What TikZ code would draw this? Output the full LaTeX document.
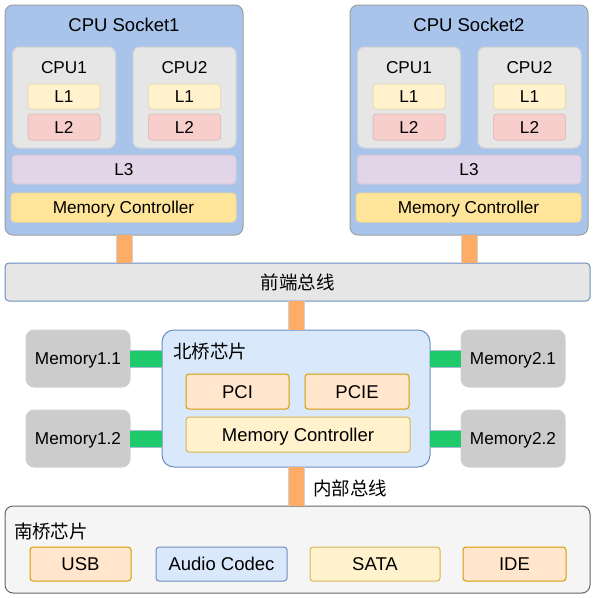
\documentclass[tikz,border=0pt]{standalone}
\usepackage{fontspec}
\setmainfont{Liberation Sans}
\newfontfamily\cjk{Noto Sans CJK SC}
\definecolor{sockfill}{HTML}{A9C4EB}
\definecolor{sockdraw}{HTML}{9E9E9E}
\definecolor{cpufill}{HTML}{E6E6E6}
\definecolor{cpudraw}{HTML}{D4D4D4}
\definecolor{lonefill}{HTML}{FFF2CC}
\definecolor{lonedraw}{HTML}{E8DDB8}
\definecolor{ltwofill}{HTML}{F8CECC}
\definecolor{ltwodraw}{HTML}{E2C0BE}
\definecolor{lthreefill}{HTML}{E1D5E7}
\definecolor{lthreedraw}{HTML}{D2C8D8}
\definecolor{mcfill}{HTML}{FFE599}
\definecolor{mcdraw}{HTML}{F2DA94}
\definecolor{bluefill}{HTML}{DAE8FC}
\definecolor{bluedraw}{HTML}{6C8EBF}
\definecolor{orfill}{HTML}{FFE6CC}
\definecolor{ordraw}{HTML}{D79B00}
\definecolor{yefill}{HTML}{FFF2CC}
\definecolor{yedraw}{HTML}{D6B656}
\definecolor{memfill}{HTML}{CCCCCC}
\definecolor{sbfill}{HTML}{F5F5F5}
\definecolor{sbdraw}{HTML}{666666}
\definecolor{busor}{HTML}{FFAD66}
\definecolor{busgreen}{HTML}{1FCA6A}
\begin{document}
\begin{tikzpicture}[x=1pt,y=-1pt,
  every node/.style={inner sep=0pt, outer sep=0pt, font=\fontsize{17.2}{19}\selectfont, text height=12.4pt, text depth=0pt},
  big/.style={font=\fontsize{18.5}{20}\selectfont, text height=13.3pt},
  bx/.style={draw, line width=1pt, minimum width=#1},
  sock/.style={bx=238pt, minimum height=230pt, fill=sockfill, draw=sockdraw, rounded corners=8pt},
  cpubox/.style={bx=103pt, minimum height=101pt, fill=cpufill, draw=cpudraw, rounded corners=7pt},
  lone/.style={bx=72pt, minimum height=25pt, fill=lonefill, draw=lonedraw, rounded corners=3pt},
  ltwo/.style={bx=72pt, minimum height=26pt, fill=ltwofill, draw=ltwodraw, rounded corners=3pt},
  lthree/.style={bx=224pt, minimum height=29pt, fill=lthreefill, draw=lthreedraw, rounded corners=4pt},
  mctl/.style={bx=225pt, minimum height=29pt, fill=mcfill, draw=mcdraw, rounded corners=4pt},
  memb/.style={bx=104pt, minimum height=57pt, fill=memfill, draw=memfill!90!white, rounded corners=8pt},
  orb/.style={big, bx=#1, minimum height=35pt, fill=orfill, draw=ordraw, rounded corners=3pt},
  yeb/.style={big, bx=#1, minimum height=35pt, fill=yefill, draw=yedraw, rounded corners=3pt},
  blb/.style={big, bx=#1, minimum height=34pt, fill=bluefill, draw=bluedraw, rounded corners=3pt},
  obus/.style={line width=1pt, draw=black!18, double=busor, double distance=15pt},
  gbus/.style={line width=1pt, draw=bluedraw!60, double=busgreen, double distance=16pt},
  cjkl/.style={font=\fontsize{18.5}{20}\selectfont\cjk, text height=14pt}
]
\useasboundingbox (0,0) rectangle (595,598);
% sockets
\foreach \o/\n in {0/1,345/2}{
  \node[sock] (s\n) at (124+\o,120) {};
  \node[big] (s\n t) at (124+\o,25) {CPU Socket\n};
  \node[cpubox] (s\n c1) at (64+\o,97.5) {};
  \node[cpubox] (s\n c2) at (184.5+\o,97.5) {};
  \node (s\n c1t) at (64+\o,67) {CPU1};
  \node (s\n c2t) at (184.5+\o,67) {CPU2};
  \node[lone] (s\n a1) at (64+\o,96.5) {L1};
  \node[ltwo] (s\n a2) at (64+\o,127) {L2};
  \node[lone] (s\n b1) at (184.5+\o,96.5) {L1};
  \node[ltwo] (s\n b2) at (184.5+\o,127) {L2};
  \node[lthree] (s\n l3) at (124+\o,169.5) {L3};
  \node[mctl] (s\n mc) at (123.5+\o,207.5) {Memory Controller};
}
% front bus
\node[bx=585pt, minimum height=38pt, fill=cpufill, draw=bluedraw, rounded corners=4pt] (bus) at (297.5,282) {};
\node[cjkl] (bust) at (297.5,282) {前端总线};
\draw[obus] (s1.south) -- (s1.south |- bus.north);
\draw[obus] (s2.south) -- (s2.south |- bus.north);
% north bridge
\node[bx=268pt, minimum height=137pt, fill=bluefill, draw=bluedraw, rounded corners=12pt] (nb) at (296,398.5) {};
\node[cjkl, anchor=west] (nbt) at (173,351) {北桥芯片};
\node[orb=103pt] (pci) at (237.5,391.5) {PCI};
\node[orb=104pt] (pcie) at (357,391.5) {PCIE};
\node[yeb=224pt] (nbmc) at (298,434.5) {Memory Controller};
\draw[obus] (nb.north) -- (nb.north |- bus.south);
% memories
\node[memb] (m11) at (78,358.5) {Memory1.1};
\node[memb] (m12) at (78,438.5) {Memory1.2};
\node[memb] (m21) at (513,358.5) {Memory2.1};
\node[memb] (m22) at (513,438.5) {Memory2.2};
\draw[gbus] (m11.east) -- (m11.east -| nb.west);
\draw[gbus] (m12.east) -- (m12.east -| nb.west);
\draw[gbus] (m21.west) -- (m21.west -| nb.east);
\draw[gbus] (m22.west) -- (m22.west -| nb.east);
% south bridge
\node[bx=585pt, minimum height=87pt, fill=sbfill, draw=sbdraw, rounded corners=8pt] (sb) at (297.5,549.5) {};
\node[cjkl, anchor=west] (sbt) at (14,531) {南桥芯片};
\draw[obus] (nb.south) -- (nb.south |- sb.north);
\node[cjkl, anchor=west] (ibt) at (313,488) {内部总线};
\node[orb=101pt, minimum height=34pt] (usb) at (80.5,564) {USB};
\node[blb=131pt] (audio) at (221.5,564) {Audio Codec};
\node[yeb=130pt, minimum height=34pt] (sata) at (375,564) {SATA};
\node[orb=103pt, minimum height=34pt] (ide) at (514.5,564) {IDE};
\end{tikzpicture}
\end{document}
